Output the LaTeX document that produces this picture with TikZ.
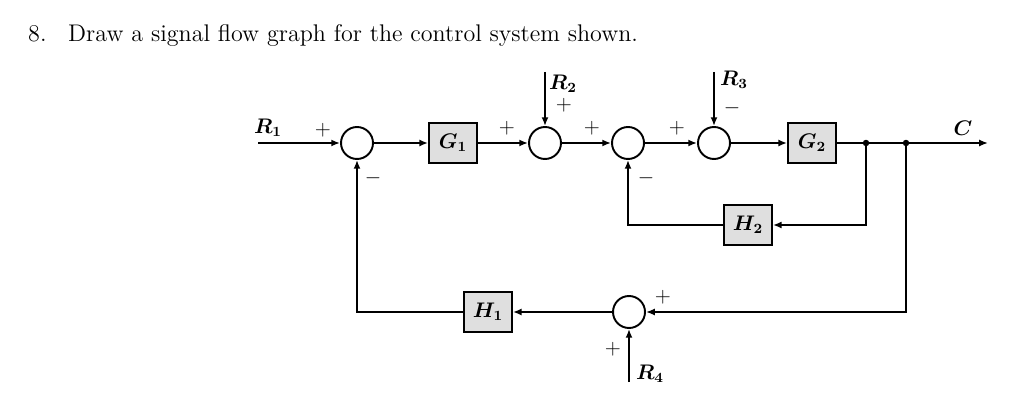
\documentclass[tikz,border=0pt]{standalone}
\usepackage{bm}
\usetikzlibrary{arrows.meta}
\begin{document}
\begin{tikzpicture}[x=0.02cm,y=-0.02cm,
  sumj/.style={circle,draw,line width=1.1pt,minimum size=0.64cm,inner sep=0pt},
  blk/.style={draw,line width=1pt,fill=gray!25,minimum width=0.96cm,minimum height=0.8cm,font=\large},
  sig/.style={line width=1.1pt,-{Latex[length=5pt,width=4pt]}},
  lab/.style={font=\large},
  dot/.style={circle,fill,inner sep=1.3pt}]
\useasboundingbox (0,0) rectangle (1024,405);
\node[anchor=base west,font=\fontsize{13.7}{16}\selectfont] (num) at (22,42) {8.};
\node[anchor=base west,font=\fontsize{13.7}{16}\selectfont] (ttl) at (62,42) {Draw a signal flow graph for the control system shown.};
\node[sumj] (s1) at (357,143) {};
\node[blk] (g1) at (453,143) {$\bm{G_1}$};
\node[sumj] (s2) at (545,143) {};
\node[sumj] (s3) at (628,143) {};
\node[sumj] (s4) at (714,143) {};
\node[blk] (g2) at (812,143) {$\bm{G_2}$};
\node[blk] (h2) at (748,225) {$\bm{H_2}$};
\node[blk] (h1) at (488,312) {$\bm{H_1}$};
\node[sumj] (s5) at (629,312) {};
\coordinate (r1) at (258,143);
\coordinate (b1) at (866,143);
\coordinate (b2) at (906,143);
\coordinate (c) at (988,143);
\coordinate (r2) at (545,72);
\coordinate (r3) at (714,72);
\coordinate (r4) at (629,382);
\node[dot] at (b1) {};
\node[dot] at (b2) {};
\draw[sig] (r1) -- (s1);
\draw[sig] (s1) -- (g1);
\draw[sig] (g1) -- (s2);
\draw[sig] (s2) -- (s3);
\draw[sig] (s3) -- (s4);
\draw[sig] (s4) -- (g2);
\draw[sig] (g2) -- (c);
\draw[sig] (r2) -- (s2);
\draw[sig] (r3) -- (s4);
\draw[sig] (r4) -- (s5);
\draw[sig] (b1) |- (h2);
\draw[sig] (h2) -| (s3);
\draw[sig] (b2) |- (s5);
\draw[sig] (s5) -- (h1);
\draw[sig] (h1) -| (s1);
\node[lab] at (268,128) {$\bm{R_1}$};
\node[lab] at (323,130) {$+$};
\node[lab] at (373,178) {$-$};
\node[lab] at (507,128) {$+$};
\node[lab] at (563,84) {$\bm{R_2}$};
\node[lab] at (564,105) {$+$};
\node[lab] at (592,128) {$+$};
\node[lab] at (646,178) {$-$};
\node[lab] at (677,128) {$+$};
\node[lab] at (734,80) {$\bm{R_3}$};
\node[lab] at (732,108) {$-$};
\node[lab] at (963,128) {$\bm{C}$};
\node[lab] at (663,297) {$+$};
\node[lab] at (613,349) {$+$};
\node[lab] at (650,374) {$\bm{R_4}$};
\end{tikzpicture}
\end{document}
